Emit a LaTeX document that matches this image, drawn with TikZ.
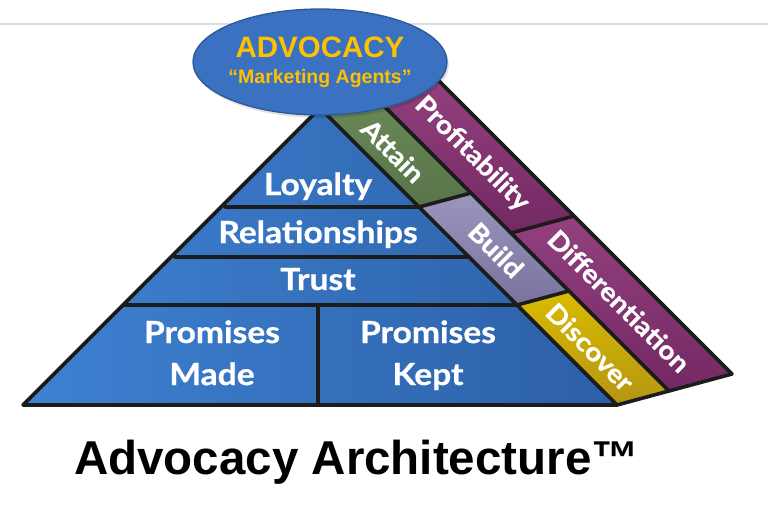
\documentclass[tikz,border=0pt]{standalone}
\usepackage{fontspec}
\newfontfamily\gill{Lato}[FakeStretch=1.1, BoldFeatures={FakeBold=0.8}]
\newfontfamily\arialf{Liberation Sans}
\definecolor{pyrL}{HTML}{3E82D3}
\definecolor{pyrR}{HTML}{2C5FA6}
\definecolor{attT}{HTML}{6A8A58}
\definecolor{attB}{HTML}{587349}
\definecolor{bldT}{HTML}{9A96BE}
\definecolor{bldB}{HTML}{77739C}
\definecolor{disT}{HTML}{DABA00}
\definecolor{disB}{HTML}{B49612}
\definecolor{purT}{HTML}{93407F}
\definecolor{purB}{HTML}{732963}
\definecolor{ellF}{HTML}{3A71C0}
\definecolor{ellD}{HTML}{2C5996}
\definecolor{gold}{HTML}{FFC000}
\definecolor{edge}{HTML}{1C1C1C}
\definecolor{rule}{HTML}{DEDEDE}
\tikzset{
  outline/.style={draw=edge, line width=3.6pt, line join=round, line cap=round},
  pyrtext/.style={text=white, font=\gill\bfseries\fontsize{30.5}{30}\selectfont, anchor=base, inner sep=0pt},
  sidetext/.style={text=white, font=\gill\bfseries\fontsize{26}{26}\selectfont, rotate=-45, anchor=center, inner sep=0pt},
}
\begin{document}
\begin{tikzpicture}[x=1pt, y=-1pt]
\useasboundingbox (0,0) rectangle (768,515);
% top rule
\draw[rule, line width=2pt] (0,24) -- (768,24);
% key coordinates
\coordinate (apex) at (320,108);
\coordinate (bl) at (23,405);
\coordinate (br) at (617,405);
\coordinate (l1) at (225,207); \coordinate (r1) at (419,207);
\coordinate (l2) at (175,257); \coordinate (r2) at (469,257);
\coordinate (l3) at (123,305); \coordinate (r3) at (517,305);
\coordinate (dtop) at (318,305); \coordinate (dbot) at (318,405);
% side face coordinates
\coordinate (ia) at (372,94);
\coordinate (ib) at (471,193);
\coordinate (ic) at (569,291);
\coordinate (id) at (669,391);
\coordinate (oa) at (435,77);
\coordinate (om) at (511,233);
\coordinate (on) at (574,216);
\coordinate (od) at (732,374);
% side strip fills
\shade[top color=attT, bottom color=attB] (apex) -- (r1) -- (ib) -- (ia) -- cycle;
\shade[top color=bldT, bottom color=bldB] (r1) -- (r3) -- (ic) -- (ib) -- cycle;
\shade[top color=disT, bottom color=disB] (r3) -- (br) -- (id) -- (ic) -- cycle;
\shade[top color=purT, bottom color=purB] (ia) -- (om) -- (on) -- (oa) -- cycle;
\shade[top color=purT, bottom color=purB] (om) -- (id) -- (od) -- (on) -- cycle;
% pyramid fill
\shade[left color=pyrL, right color=pyrR] (apex) -- (bl) -- (br) -- cycle;
% outlines
\draw[outline] (apex) -- (bl) -- (br) -- (od) -- (oa) -- cycle;
\draw[outline] (apex) -- (br);
\draw[outline] (l1) -- (r1) -- (ib);
\draw[outline] (l2) -- (r2);
\draw[outline] (l3) -- (r3) -- (ic);
\draw[outline] (dtop) -- (dbot);
\draw[outline] (ia) -- (id);
\draw[outline] (om) -- (on);
% pyramid texts
\node[pyrtext] (loyalty) at (318,195) {Loyalty};
\node[pyrtext] (relations) at (318,243) {Relationships};
\node[pyrtext] (trust) at (318,290) {Trust};
\node[pyrtext] (pm1) at (212,343) {Promises};
\node[pyrtext] (pm2) at (212,385) {Made};
\node[pyrtext] (pk1) at (428,343) {Promises};
\node[pyrtext] (pk2) at (428,385) {Kept};
% side texts
\node[sidetext] (attain) at (393,151) {Attain};
\node[sidetext] (build) at (496,250) {Build};
\node[sidetext] (discover) at (590,347) {Discover};
\node[sidetext] (profit) at (472,154) {Profitability};
\node[sidetext] (diff) at (619,301) {Differentiation};
% ellipse
\fill[black, opacity=0.12] (322,65) ellipse [x radius=127pt, y radius=53pt];
\draw[fill=ellF, draw=ellD, line width=1.3pt] (320,62) ellipse [x radius=127pt, y radius=53pt];
\node[text=gold, font=\arialf\bfseries\fontsize{29.5}{30}\selectfont, anchor=base, inner sep=0pt] (advocacy) at (320,57) {ADVOCACY};
\node[text=gold, font=\arialf\bfseries\fontsize{19.5}{20}\selectfont, anchor=base, inner sep=0pt] (agents) at (320,83) {“Marketing Agents”};
% title
\node[text=black, font=\arialf\bfseries\fontsize{47.5}{48}\selectfont, anchor=base west, inner sep=0pt] (title) at (74,474) {Advocacy Architecture™};
\end{tikzpicture}
\end{document}
